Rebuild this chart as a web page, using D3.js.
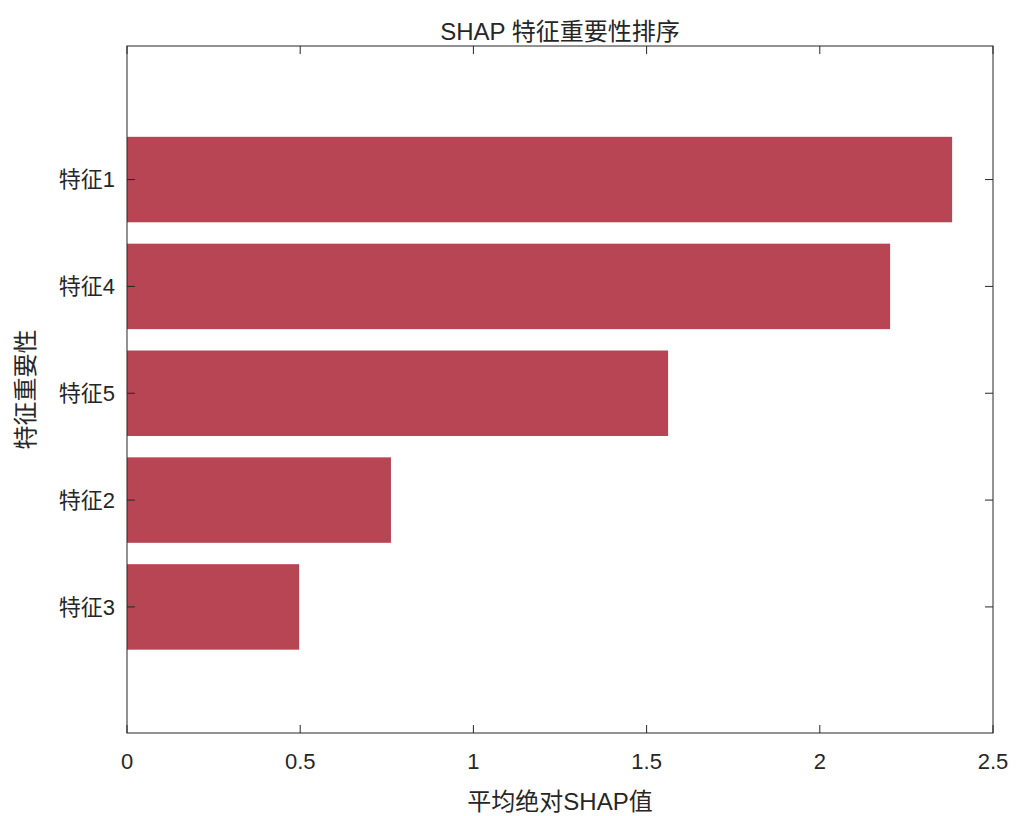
<!DOCTYPE html>
<html>
<head>
<meta charset="UTF-8" />
<script src="https://d3js.org/d3.v7.min.js"></script>
<style>
  body { margin: 0; background: #fff; font-family: 'Liberation Sans', 'Noto Sans CJK SC', sans-serif; }
  text { fill: #262626; }
</style>
</head>
<body>
<svg id="chart" width="1018" height="816"></svg>
<script>
// data
var categories = ["特征1", "特征4", "特征5", "特征2", "特征3"];
var values = [2.382, 2.203, 1.562, 0.762, 0.497];
var xTicks = [0, 0.5, 1, 1.5, 2, 2.5];
var xTickLabels = ["0", "0.5", "1", "1.5", "2", "2.5"];

var svg = d3.select("#chart");
var mLeft = 127, mRight = 993, mTop = 46, mBottom = 733;

var x = d3.scaleLinear().domain([0, 2.5]).range([mLeft, mRight]);
// category positions 1..5, axis limits
var y = d3.scaleLinear().domain([-0.25, 6.18]).range([mTop, mBottom]);
var barH = (y(1) - y(0)) * 0.8;

svg.selectAll("rect.bar")
  .data(values)
  .enter().append("rect")
  .attr("class", "bar")
  .attr("x", x(0))
  .attr("y", function (d, i) { return y(i + 1) - barH / 2; })
  .attr("width", function (d) { return x(d) - x(0); })
  .attr("height", barH)
  .attr("fill", "#b84553");

// box
svg.append("rect")
  .attr("x", mLeft).attr("y", mTop)
  .attr("width", mRight - mLeft).attr("height", mBottom - mTop)
  .attr("fill", "none").attr("stroke", "#262626").attr("stroke-width", 1);

var tickLen = 8;
// x ticks (bottom and top, inward)
xTicks.forEach(function (t, i) {
  svg.append("line").attr("x1", x(t)).attr("x2", x(t))
    .attr("y1", mBottom).attr("y2", mBottom - tickLen).attr("stroke", "#262626");
  svg.append("line").attr("x1", x(t)).attr("x2", x(t))
    .attr("y1", mTop).attr("y2", mTop + tickLen).attr("stroke", "#262626");
  svg.append("text").attr("x", x(t)).attr("y", mBottom + 36)
    .attr("text-anchor", "middle").attr("font-size", 22)
    .text(xTickLabels[i]);
});

// y ticks (left and right, inward)
categories.forEach(function (c, i) {
  var yy = y(i + 1);
  svg.append("line").attr("x1", mLeft).attr("x2", mLeft + tickLen)
    .attr("y1", yy).attr("y2", yy).attr("stroke", "#262626");
  svg.append("line").attr("x1", mRight).attr("x2", mRight - tickLen)
    .attr("y1", yy).attr("y2", yy).attr("stroke", "#262626");
  svg.append("text").attr("x", mLeft - 12).attr("y", yy)
    .attr("dy", "0.35em").attr("text-anchor", "end").attr("font-size", 22)
    .text(c);
});

svg.append("text").attr("x", (mLeft + mRight) / 2).attr("y", 40)
  .attr("text-anchor", "middle").attr("font-size", 24)
  .text("SHAP 特征重要性排序");

svg.append("text").attr("x", (mLeft + mRight) / 2).attr("y", 810)
  .attr("text-anchor", "middle").attr("font-size", 24)
  .text("平均绝对SHAP值");

svg.append("text")
  .attr("transform", "translate(34," + ((mTop + mBottom) / 2) + ") rotate(-90)")
  .attr("text-anchor", "middle").attr("font-size", 24)
  .text("特征重要性");
</script>
</body>
</html>
